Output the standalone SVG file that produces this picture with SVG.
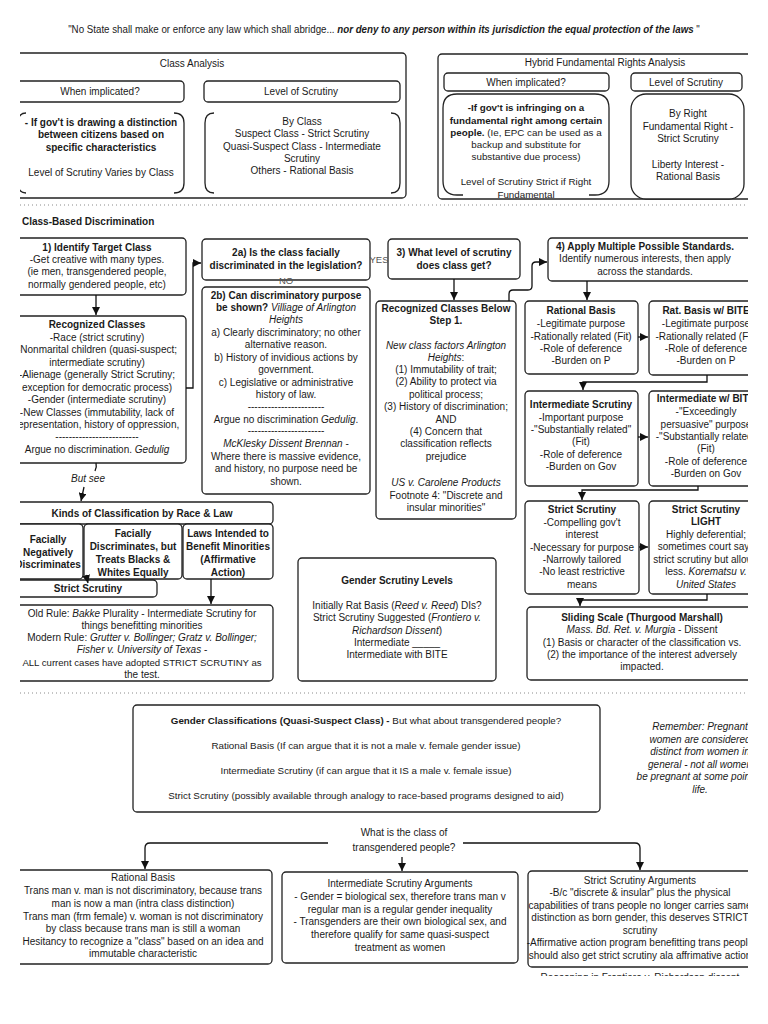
<svg xmlns="http://www.w3.org/2000/svg" width="768" height="1024" viewBox="0 0 768 1024">
<defs>
<style>
text{font-family:"Liberation Sans",Arial,sans-serif;font-size:10px;fill:#1a1a1a;text-anchor:middle}
.l{text-anchor:start}
.b{font-weight:bold}
.i{font-style:italic}
.s9{font-size:9.8px}
.box{fill:#fff;stroke:#222;stroke-width:1.3}
.br{fill:none;stroke:#222;stroke-width:1.3}
.ln{fill:none;stroke:#111;stroke-width:1.3}
.dot{stroke:#8a8a8a;stroke-width:1;stroke-dasharray:1 3}
.g{fill:#555}
</style>
<marker id="ah" markerUnits="userSpaceOnUse" viewBox="0 0 10 10" refX="10" refY="5" markerWidth="8" markerHeight="8" orient="auto"><path d="M0,0 L10,5 L0,10 z" fill="#111"/></marker>
<clipPath id="page"><rect x="20" y="0" width="728" height="1024"/></clipPath>
<clipPath id="cut"><rect x="520" y="968" width="228" height="8"/></clipPath>
</defs>
<rect width="768" height="1024" fill="#fff"/>
<g clip-path="url(#page)">
<text id="quote" transform="translate(384,33) scale(0.975,1)" x="0" y="0">"No State shall make or enforce any law which shall abridge... <tspan class="b i">nor deny to any person within its jurisdiction the equal protection of the laws</tspan> "</text>

<g id="class-analysis">
<rect class="box" x="8" y="53" width="398" height="145" rx="4"/>
<text x="192" y="67">Class Analysis</text>
<rect class="box" x="14" y="81" width="170" height="21" rx="4"/>
<text x="100" y="95">When implicated?</text>
<rect class="box" x="204" y="81" width="196" height="21" rx="4"/>
<text x="301" y="95">Level of Scrutiny</text>
<path class="br" d="M26,113 Q18,113 18,123 L18,183 Q18,193 26,193 M174,113 Q184,113 184,123 L184,183 Q184,193 174,193"/>
<text class="b" x="101" y="126">- If gov't is drawing a distinction</text>
<text class="b" x="101" y="138">between citizens based on</text>
<text class="b" x="101" y="151">specific characteristics</text>
<text x="101" y="176">Level of Scrutiny Varies by Class</text>
<path class="br" d="M214,113 Q205,113 205,123 L205,183 Q205,193 214,193 M391,113 Q400,113 400,123 L400,183 Q400,193 391,193"/>
<text x="302" y="125">By Class</text>
<text x="302" y="137">Suspect Class - Strict Scrutiny</text>
<text x="302" y="150">Quasi-Suspect Class - Intermediate</text>
<text x="302" y="162">Scrutiny</text>
<text x="302" y="174">Others - Rational Basis</text>
</g>

<g id="hybrid">
<rect class="box" x="438" y="54" width="330" height="145" rx="4"/>
<text x="605" y="66">Hybrid Fundamental Rights Analysis</text>
<rect class="box" x="444" y="73" width="165" height="18" rx="4"/>
<text x="526" y="86">When implicated?</text>
<rect class="box" x="631" y="73" width="111" height="18" rx="4"/>
<text x="686" y="86">Level of Scrutiny</text>
<path class="br" d="M463,195 L457,195 Q443,195 443,181 L443,108 Q443,94 457,94 L595,94 Q609,94 609,108 L609,181 Q609,195 595,195 L589,195"/>
<text class="b" x="526" y="111" style="font-size:9.8px">-If gov't is infringing on a</text>
<text class="b" x="526" y="124" style="font-size:9.8px">fundamental right among certain</text>
<text x="526" y="136" style="font-size:9.8px"><tspan class="b">people.</tspan> (Ie, EPC can be used as a</text>
<text x="526" y="148" style="font-size:9.8px">backup and substitute for</text>
<text x="526" y="160" style="font-size:9.8px">substantive due process)</text>
<text x="526" y="185" style="font-size:9.8px">Level of Scrutiny Strict if Right</text>
<text x="526" y="198" style="font-size:9.8px">Fundamental</text>
<rect class="box" x="631" y="94" width="113" height="105" rx="15"/>
<text x="688" y="117">By Right</text>
<text x="688" y="130">Fundamental Right -</text>
<text x="688" y="142">Strict Scrutiny</text>
<text x="688" y="168">Liberty Interest -</text>
<text x="688" y="180">Rational Basis</text>
</g>

<line class="dot" x1="20" y1="205" x2="748" y2="205"/>
<text class="b l" x="22" y="225">Class-Based Discrimination</text>

<g id="step1">
<rect class="box" x="8" y="238" width="178" height="57" rx="4"/>
<text class="b" x="97" y="251">1) Identify Target Class</text>
<text x="97" y="263">-Get creative with many types.</text>
<text x="97" y="275">(ie men, transgendered people,</text>
<text x="97" y="288">normally gendered people, etc)</text>
</g>

<g id="recognized-classes">
<rect class="box" x="8" y="316" width="178" height="147" rx="4"/>
<text class="b" x="97" y="328">Recognized Classes</text>
<text x="97" y="341">-Race (strict scrutiny)</text>
<text x="97" y="353">-Nonmarital children (quasi-suspect;</text>
<text x="97" y="366">intermediate scrutiny)</text>
<text x="97" y="378">-Alienage (generally Strict Scrutiny;</text>
<text x="97" y="391">exception for democratic process)</text>
<text x="97" y="403">-Gender (intermediate scrutiny)</text>
<text x="97" y="416">-New Classes (immutability, lack of</text>
<text x="97" y="428">representation, history of oppression,</text>
<text x="97" y="440">-------------------------</text>
<text x="97" y="453">Argue no discrimination. <tspan class="i">Gedulig</tspan></text>
</g>

<text id="but-see" class="i" x="88" y="482">But see</text>

<g id="step2a">
<rect class="box" x="202" y="239" width="168" height="41" rx="4"/>
<text class="b" x="286" y="256">2a) Is the class facially</text>
<text class="b" x="286" y="269">discriminated in the legislation?</text>
</g>

<g id="step2b">
<rect class="box" x="202" y="287" width="168" height="207" rx="4"/>
<text class="b" x="286" y="299">2b) Can discriminatory purpose</text>
<text x="286" y="311"><tspan class="b">be shown?</tspan> <tspan class="i">Villiage of Arlington</tspan></text>
<text class="i" x="286" y="323">Heights</text>
<text x="286" y="336">a) Clearly discriminatory; no other</text>
<text x="286" y="348">alternative reason.</text>
<text x="286" y="361">b) History of invidious actions by</text>
<text x="286" y="373">government.</text>
<text x="286" y="386">c) Legislative or administrative</text>
<text x="286" y="398">history of law.</text>
<text x="286" y="410">-----------------------</text>
<text x="286" y="423">Argue no discrimination <tspan class="i">Gedulig</tspan>.</text>
<text x="286" y="434">-----------------------</text>
<text x="286" y="447"><tspan class="i">McKlesky Dissent Brennan</tspan> -</text>
<text x="286" y="460">Where there is massive evidence,</text>
<text x="286" y="472">and history, no purpose need be</text>
<text x="286" y="485">shown.</text>
</g>

<g id="step3">
<rect class="box" x="388" y="239" width="132" height="40" rx="4"/>
<text class="b" x="454" y="256">3) What level of scrutiny</text>
<text class="b" x="454" y="269">does class get?</text>
</g>

<g id="recognized-below">
<rect class="box" x="376" y="301" width="140" height="218" rx="4"/>
<text class="b" x="446" y="312">Recognized Classes Below</text>
<text class="b" x="446" y="324">Step 1.</text>
<text class="i" x="446" y="349">New class factors Arlington</text>
<text x="446" y="361"><tspan class="i">Heights</tspan>:</text>
<text x="446" y="373">(1) Immutability of trait;</text>
<text x="446" y="385">(2) Ability to protect via</text>
<text x="446" y="398">political process;</text>
<text x="446" y="410">(3) History of discrimination;</text>
<text x="446" y="423">AND</text>
<text x="446" y="435">(4) Concern that</text>
<text x="446" y="447">classification reflects</text>
<text x="446" y="460">prejudice</text>
<text class="i" x="446" y="486">US v. Carolene Products</text>
<text x="446" y="499">Footnote 4: "Discrete and</text>
<text x="446" y="511">insular minorities"</text>
</g>

<g id="step4">
<rect class="box" x="548" y="238" width="212" height="43" rx="4"/>
<text class="b" x="645" y="250">4) Apply Multiple Possible Standards.</text>
<text x="645" y="262">Identify numerous interests, then apply</text>
<text x="645" y="275">across the standards.</text>
</g>

<g id="rational-basis">
<rect class="box" x="525" y="301" width="113" height="73" rx="4"/>
<text class="b" x="581" y="314">Rational Basis</text>
<text x="581" y="327">-Legitimate purpose</text>
<text x="581" y="340">-Rationally related (Fit)</text>
<text x="581" y="352">-Role of deference</text>
<text x="581" y="364">-Burden on P</text>
</g>

<g id="rat-basis-bite">
<rect class="box" x="649" y="301" width="116" height="74" rx="4"/>
<text class="b" x="706" y="314">Rat. Basis w/ BITE</text>
<text x="706" y="327">-Legitimate purpose</text>
<text x="706" y="340">-Rationally related (Fit)</text>
<text x="706" y="352">-Role of deference</text>
<text x="706" y="364">-Burden on P</text>
</g>

<g id="intermediate">
<rect class="box" x="525" y="391" width="113" height="95" rx="4"/>
<text class="b" x="581" y="408">Intermediate Scrutiny</text>
<text x="581" y="421">-Important purpose</text>
<text x="581" y="433">-"Substantially related"</text>
<text x="581" y="445">(Fit)</text>
<text x="581" y="458">-Role of deference</text>
<text x="581" y="470">-Burden on Gov</text>
</g>

<g id="intermediate-bite">
<rect class="box" x="649" y="391" width="116" height="95" rx="4"/>
<text class="b" x="706" y="402">Intermediate w/ BITE</text>
<text x="706" y="415">-"Exceedingly</text>
<text x="706" y="428">persuasive" purpose</text>
<text x="706" y="440">-"Substantially related"</text>
<text x="706" y="452">(Fit)</text>
<text x="706" y="465">-Role of deference</text>
<text x="706" y="477">-Burden on Gov</text>
</g>

<g id="strict">
<rect class="box" x="525" y="501" width="114" height="93" rx="4"/>
<text class="b" x="582" y="513">Strict Scrutiny</text>
<text x="582" y="526">-Compelling gov't</text>
<text x="582" y="538">interest</text>
<text x="582" y="551">-Necessary for purpose</text>
<text x="582" y="563">-Narrowly tailored</text>
<text x="582" y="575">-No least restrictive</text>
<text x="582" y="588">means</text>
</g>

<g id="strict-light">
<rect class="box" x="649" y="501" width="116" height="93" rx="4"/>
<text class="b" x="706" y="513">Strict Scrutiny</text>
<text class="b" x="706" y="525">LIGHT</text>
<text x="706" y="538">Highly deferential;</text>
<text x="706" y="550">sometimes court says</text>
<text x="706" y="563">strict scrutiny but allows</text>
<text x="706" y="575">less. <tspan class="i">Korematsu v.</tspan></text>
<text class="i" x="706" y="588">United States</text>
</g>

<g id="sliding-scale">
<rect class="box" x="527" y="607" width="230" height="73" rx="4"/>
<text class="b" x="642" y="621">Sliding Scale (Thurgood Marshall)</text>
<text x="642" y="633"><tspan class="i">Mass. Bd. Ret. v. Murgia</tspan> -  Dissent</text>
<text x="642" y="646">(1) Basis or character of the classification vs.</text>
<text x="642" y="658">(2) the importance of the interest adversely</text>
<text x="642" y="670">impacted.</text>
</g>

<g id="kinds">
<rect class="box" x="8" y="502" width="265" height="22" rx="4"/>
<text class="b" x="142" y="517">Kinds of Classification by Race &amp; Law</text>
</g>
<g id="facially-negative">
<rect class="box" x="8" y="524" width="75" height="55" rx="4"/>
<text class="b" x="48" y="543">Facially</text>
<text class="b" x="48" y="556">Negatively</text>
<text class="b" x="48" y="568">Discriminates</text>
</g>
<g id="facially-equal">
<rect class="box" x="84" y="524" width="98" height="55" rx="4"/>
<text class="b" x="133" y="537">Facially</text>
<text class="b" x="133" y="550">Discriminates, but</text>
<text class="b" x="133" y="563">Treats Blacks &amp;</text>
<text class="b" x="133" y="576">Whites Equally</text>
</g>
<g id="benefit-minorities">
<rect class="box" x="183" y="524" width="90" height="55" rx="4"/>
<text class="b" x="228" y="537">Laws Intended to</text>
<text class="b" x="228" y="550">Benefit Minorities</text>
<text class="b" x="228" y="563">(Affirmative</text>
<text class="b" x="228" y="576">Action)</text>
</g>
<g id="strict-race">
<rect class="box" x="8" y="580" width="149" height="17" rx="4"/>
<text class="b" x="88" y="592">Strict Scrutiny</text>
</g>
<g id="old-rule">
<rect class="box" x="8" y="605" width="265" height="76" rx="4"/>
<text x="142" y="617">Old Rule: <tspan class="i">Bakke</tspan> Plurality - Intermediate Scrutiny for</text>
<text x="142" y="629">things benefitting minorities</text>
<text x="142" y="641">Modern Rule: <tspan class="i">Grutter v. Bollinger; Gratz v. Bollinger;</tspan></text>
<text x="142" y="653"><tspan class="i">Fisher v. University of Texas</tspan> -</text>
<text x="142" y="666" style="font-size:9.6px">ALL current cases have adopted STRICT SCRUTINY as</text>
<text x="142" y="678">the test.</text>
</g>

<g id="gender-levels">
<rect class="box" x="298" y="558" width="198" height="123" rx="4"/>
<text class="b" x="397" y="584">Gender Scrutiny Levels</text>
<text x="397" y="609">Initially Rat Basis (<tspan class="i">Reed v. Reed</tspan>) DIs?</text>
<text x="397" y="621">Strict Scrutiny Suggested (<tspan class="i">Frontiero v.</tspan></text>
<text x="397" y="634"><tspan class="i">Richardson Dissent</tspan>)</text>
<text x="397" y="646">Intermediate _____</text>
<text x="397" y="658">Intermediate with BITE</text>
</g>

<line class="dot" x1="20" y1="693" x2="748" y2="693"/>

<g id="gender-classifications">
<rect class="box" x="133" y="705" width="467" height="107" rx="4"/>
<text class="s9" x="366" y="724"><tspan class="b">Gender Classifications (Quasi-Suspect Class) -</tspan> But what about transgendered people?</text>
<text class="s9" x="366" y="749">Rational Basis (If can argue that it is not a male v. female gender issue)</text>
<text class="s9" x="366" y="774">Intermediate Scrutiny (if can argue that it IS a male v. female issue)</text>
<text class="s9" x="366" y="799">Strict Scrutiny (possibly available through analogy to race-based programs designed to aid)</text>
</g>

<g id="remember-note">
<text class="i" x="700" y="730">Remember: Pregnant</text>
<text class="i" x="700" y="743">women are considered</text>
<text class="i" x="700" y="755">distinct from women in</text>
<text class="i" x="700" y="768">general - not all women</text>
<text class="i" x="700" y="780">be pregnant at some point in</text>
<text class="i" x="700" y="793">life.</text>
</g>

<g id="question">
<text x="404" y="836">What is the class of</text>
<text x="404" y="851">transgendered people?</text>
</g>

<g id="bottom-rational">
<rect class="box" x="10" y="870" width="262" height="94" rx="4"/>
<text x="143" y="881">Rational Basis</text>
<text x="143" y="894">Trans man v. man is not discriminatory, because trans</text>
<text x="143" y="907">man is now a man (intra class distinction)</text>
<text x="143" y="920">Trans man (frm female) v. woman is not discriminatory</text>
<text x="143" y="932">by class because trans man is still a woman</text>
<text x="143" y="945">Hesitancy to recognize a "class" based on an idea and</text>
<text x="143" y="957">immutable characteristic</text>
</g>

<g id="bottom-intermediate">
<rect class="box" x="282" y="872" width="236" height="91" rx="4"/>
<text x="400" y="887">Intermediate Scrutiny Arguments</text>
<text x="400" y="900">- Gender = biological sex, therefore trans man v</text>
<text x="400" y="913">regular man is a regular gender inequality</text>
<text x="400" y="925">- Transgenders are their own biological sex, and</text>
<text x="400" y="938">therefore qualify for same quasi-suspect</text>
<text x="400" y="951">treatment as women</text>
</g>

<g id="bottom-strict">
<rect class="box" x="528" y="871" width="236" height="96" rx="4"/>
<text x="640" y="884">Strict Scrutiny Arguments</text>
<text x="640" y="896">-B/c "discrete &amp; insular" plus the physical</text>
<text x="640" y="909">capabilities of trans people no longer carries same</text>
<text x="640" y="921">distinction as born gender, this deserves STRICT</text>
<text x="640" y="934">scrutiny</text>
<text x="640" y="946">-Affirmative action program benefitting trans people</text>
<text x="640" y="959">should also get strict scrutiny ala affrimative action</text>
<text x="640" y="981" clip-path="url(#cut)">Reasoning in Frontiero v. Richardson dissent</text>
</g>

<g id="connectors">
<path class="ln" d="M96,295 L96,315" marker-end="url(#ah)"/>
<path class="ln" d="M186,388 L193,388 L193,263 L201,263" marker-end="url(#ah)"/>
<path class="ln" d="M96,463 Q97,467 95,471"/>
<path class="ln" d="M84,487 L81,501" marker-end="url(#ah)"/>
<path class="ln" d="M86,575 L88,583" marker-end="url(#ah)"/>
<path class="ln" d="M211,579 L211,604" marker-end="url(#ah)"/>
<path class="ln" d="M454,279 L454,300" marker-end="url(#ah)"/>
<path class="ln" d="M509,301 L509,294 Q509,290 513,290 L528,290 Q532,290 532,286 L532,266 Q532,262 536,262 L547,262" marker-end="url(#ah)"/>
<path class="ln" d="M587,281 L587,300" marker-end="url(#ah)"/>
<path class="ln" d="M638,337 L648,337" marker-end="url(#ah)"/>
<path class="ln" d="M707,375 L707,382 L583,382 L583,390" marker-end="url(#ah)"/>
<path class="ln" d="M638,437 L648,437" marker-end="url(#ah)"/>
<path class="ln" d="M698,486 L698,490 L582,490 L582,500" marker-end="url(#ah)"/>
<path class="ln" d="M639,547 L648,547" marker-end="url(#ah)"/>
<path class="ln" d="M707,594 L707,600 L580,600 L580,606" marker-end="url(#ah)"/>
<path class="ln" d="M328,843 L150,843 Q145,843 145,848 L145,869" marker-end="url(#ah)"/>
<path class="ln" d="M402,857 L402,871" marker-end="url(#ah)"/>
<path class="ln" d="M463,843 L635,843 Q640,843 640,848 L640,870" marker-end="url(#ah)"/>
<text class="g" x="379" y="263" style="font-size:9.5px">YES</text>
<text class="g" x="286" y="284" style="font-size:9.5px">NO</text>
</g>
</g>
</svg>
